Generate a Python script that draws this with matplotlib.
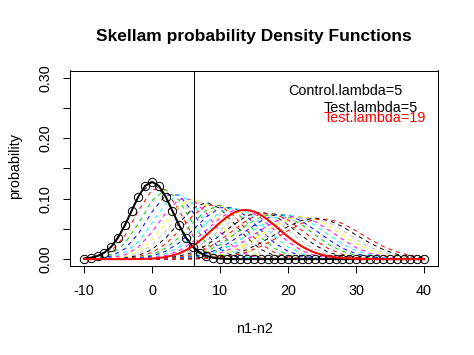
import numpy as np
import matplotlib
matplotlib.use("Agg")
import matplotlib.pyplot as plt

plt.rcParams['font.family'] = ['Liberation Sans', 'DejaVu Sans']

# support of n1-n2
n_all = np.arange(-10, 41)          # every integer, solid curves
n_even = np.arange(-10, 41, 2)      # dashed curves

# Skellam pmf, control lambda=5, test lambda=5 (black, with circles)
p_test5 = [0.0010, 0.0024, 0.0053, 0.0108, 0.0204, 0.0353, 0.0557, 0.0799, 0.1036, 0.1213,
           0.1278, 0.1213, 0.1036, 0.0799, 0.0557, 0.0353, 0.0204, 0.0108, 0.0053, 0.0024,
           0.0010, 0.0004, 0.0001, 0, 0, 0, 0, 0, 0, 0,
           0, 0, 0, 0, 0, 0, 0, 0, 0, 0,
           0, 0, 0, 0, 0, 0, 0, 0, 0, 0, 0]

# test lambda=19 (red)
p_test19 = [0, 0, 0, 0, 0, 0, 0, 0.0001, 0.0002, 0.0005,
            0.0010, 0.0019, 0.0035, 0.0060, 0.0097, 0.0149, 0.0217, 0.0302, 0.0399, 0.0503,
            0.0605, 0.0697, 0.0766, 0.0807, 0.0814, 0.0787, 0.0732, 0.0653, 0.0561, 0.0465,
            0.0371, 0.0286, 0.0213, 0.0153, 0.0107, 0.0072, 0.0047, 0.0029, 0.0018, 0.0011,
            0.0006, 0.0003, 0.0002, 0.0001, 0, 0, 0, 0, 0, 0, 0]

# dashed curves, test lambda = 5..30, values in 1/1000 at even n1-n2
test_lambdas = [5, 6, 7, 8, 9, 10, 11, 12, 13, 14, 15, 16, 17,
                18, 19, 20, 21, 22, 23, 24, 25, 26, 27, 28, 29, 30]
lam05 = [1, 5, 20, 56, 104, 128, 104, 56, 20, 5, 1, 0, 0, 0, 0, 0, 0, 0, 0, 0, 0, 0, 0, 0, 0, 0]
lam06 = [0, 3, 13, 39, 80, 115, 115, 80, 39, 13, 3, 0, 0, 0, 0, 0, 0, 0, 0, 0, 0, 0, 0, 0, 0, 0]
lam07 = [0, 2, 8, 26, 59, 97, 115, 97, 59, 26, 8, 2, 0, 0, 0, 0, 0, 0, 0, 0, 0, 0, 0, 0, 0, 0]
lam08 = [0, 1, 5, 17, 42, 78, 106, 106, 78, 42, 17, 5, 1, 0, 0, 0, 0, 0, 0, 0, 0, 0, 0, 0, 0, 0]
lam09 = [0, 1, 3, 11, 29, 60, 92, 107, 92, 60, 29, 11, 3, 1, 0, 0, 0, 0, 0, 0, 0, 0, 0, 0, 0, 0]
lam10 = [0, 0, 2, 7, 20, 45, 76, 99, 99, 76, 45, 20, 7, 2, 0, 0, 0, 0, 0, 0, 0, 0, 0, 0, 0, 0]
lam11 = [0, 0, 1, 4, 14, 32, 60, 88, 100, 88, 60, 32, 14, 4, 1, 0, 0, 0, 0, 0, 0, 0, 0, 0, 0, 0]
lam12 = [0, 0, 1, 3, 9, 23, 46, 74, 94, 94, 74, 46, 23, 9, 3, 1, 0, 0, 0, 0, 0, 0, 0, 0, 0, 0]
lam13 = [0, 0, 0, 2, 6, 16, 35, 60, 84, 94, 84, 60, 35, 16, 6, 2, 0, 0, 0, 0, 0, 0, 0, 0, 0, 0]
lam14 = [0, 0, 0, 1, 4, 11, 25, 47, 72, 89, 89, 72, 47, 25, 11, 4, 1, 0, 0, 0, 0, 0, 0, 0, 0, 0]
lam15 = [0, 0, 0, 1, 2, 7, 18, 36, 60, 81, 89, 81, 60, 36, 18, 7, 2, 1, 0, 0, 0, 0, 0, 0, 0, 0]
lam16 = [0, 0, 0, 0, 2, 5, 13, 27, 48, 70, 85, 85, 70, 48, 27, 13, 5, 2, 0, 0, 0, 0, 0, 0, 0, 0]
lam17 = [0, 0, 0, 0, 1, 3, 9, 20, 38, 59, 78, 85, 78, 59, 38, 20, 9, 3, 1, 0, 0, 0, 0, 0, 0, 0]
lam18 = [0, 0, 0, 0, 1, 2, 6, 14, 29, 48, 68, 81, 81, 68, 48, 29, 14, 6, 2, 1, 0, 0, 0, 0, 0, 0]
lam19 = [0, 0, 0, 0, 0, 1, 4, 10, 21, 38, 58, 75, 81, 75, 58, 38, 21, 10, 4, 1, 0, 0, 0, 0, 0, 0]
lam20 = [0, 0, 0, 0, 0, 1, 3, 7, 16, 30, 48, 67, 78, 78, 67, 48, 30, 16, 7, 3, 1, 0, 0, 0, 0, 0]
lam21 = [0, 0, 0, 0, 0, 1, 2, 5, 11, 23, 39, 57, 72, 78, 72, 57, 39, 23, 11, 5, 2, 1, 0, 0, 0, 0]
lam22 = [0, 0, 0, 0, 0, 0, 1, 3, 8, 17, 31, 48, 65, 75, 75, 65, 48, 31, 17, 8, 3, 1, 0, 0, 0, 0]
lam23 = [0, 0, 0, 0, 0, 0, 1, 2, 6, 13, 24, 40, 57, 70, 75, 70, 57, 40, 24, 13, 6, 2, 1, 0, 0, 0]
lam24 = [0, 0, 0, 0, 0, 0, 1, 2, 4, 9, 18, 32, 48, 63, 73, 73, 63, 48, 32, 18, 9, 4, 2, 1, 0, 0]
lam25 = [0, 0, 0, 0, 0, 0, 0, 1, 3, 7, 14, 25, 40, 56, 68, 73, 68, 56, 40, 25, 14, 7, 3, 1, 0, 0]
lam26 = [0, 0, 0, 0, 0, 0, 0, 1, 2, 5, 10, 19, 33, 48, 62, 70, 70, 62, 48, 33, 19, 10, 5, 2, 1, 0]
lam27 = [0, 0, 0, 0, 0, 0, 0, 0, 1, 3, 7, 15, 26, 40, 55, 66, 71, 66, 55, 40, 26, 15, 7, 3, 1, 0]
lam28 = [0, 0, 0, 0, 0, 0, 0, 0, 1, 2, 5, 11, 20, 33, 48, 61, 68, 68, 61, 48, 33, 20, 11, 5, 2, 1]
lam29 = [0, 0, 0, 0, 0, 0, 0, 0, 1, 2, 4, 8, 16, 27, 40, 54, 64, 68, 64, 54, 40, 27, 16, 8, 4, 2]
lam30 = [0, 0, 0, 0, 0, 0, 0, 0, 0, 1, 3, 6, 12, 21, 33, 47, 59, 66, 66, 59, 47, 33, 21, 12, 6, 3]
dashed = [lam05, lam06, lam07, lam08, lam09, lam10, lam11, lam12, lam13, lam14, lam15, lam16, lam17,
          lam18, lam19, lam20, lam21, lam22, lam23, lam24, lam25, lam26, lam27, lam28, lam29, lam30]

cutoff = 6.198      # 1.96*sd of control
x_ticks = [-10, 0, 10, 20, 30, 40]
y_ticks = [0.00, 0.10, 0.20, 0.30]
y_minor = [0.05, 0.15, 0.25]

# old R palette
rpal = ["black", "red", "#00CD00", "blue", "cyan", "magenta", "yellow", "#BEBEBE"]

W, H = 474, 355
fig = plt.figure(figsize=(W/100, H/100), dpi=100)
ax = fig.add_axes([70.4/W, 1-266.4/H, 367.2/W, 195.9/H])

px = 0.72   # one pixel in points
fs = 10.4   # R cex 1
fs_main = 12.5

for i, vals in enumerate(dashed):
    ax.plot(n_even, np.array(vals)/1000., color=rpal[i % 8], lw=px, dashes=(4, 4))

ax.plot(n_all, p_test5, color="black", lw=2*px, marker="o", ms=6.0,
        mfc="none", mec="black", mew=px)
ax.plot(n_all, p_test19, color="red", lw=2*px)
ax.axvline(cutoff, color="black", lw=px)

ax.set_xlim(-12, 42)
ax.set_ylim(-0.012, 0.312)
ax.set_xticks(x_ticks)
ax.set_xticklabels([str(v) for v in x_ticks])
ax.set_yticks(y_ticks)
ax.set_yticklabels(["%.2f" % v for v in y_ticks], rotation=90, va="center")
ax.set_yticks(y_minor, minor=True)
ax.tick_params(which="both", length=7.2*px, width=px, labelsize=fs, color="black")
ax.tick_params(axis="x", pad=7.5)
ax.tick_params(axis="y", pad=7.5)
for s in ax.spines.values():
    s.set_linewidth(px)

ax.text(20.04, 0.278, "Control.lambda=5", fontsize=fs, ha="left", va="center")
ax.text(25.19, 0.250, "Test.lambda=5", fontsize=fs, ha="left", va="center")
ax.text(25.19, 0.233, "Test.lambda=19", fontsize=fs, ha="left", va="center", color="red")

fig.text(254/W, 1-36/H, "Skellam probability Density Functions", fontsize=fs_main,
         fontweight="bold", ha="center", va="center")
fig.text(254/W, 1-329/H, "n1-n2", fontsize=fs, ha="center", va="center")
fig.text(15/W, 1-166/H, "probability", fontsize=fs, ha="center", va="center", rotation=90)

fig.savefig("out.png", dpi=100)
